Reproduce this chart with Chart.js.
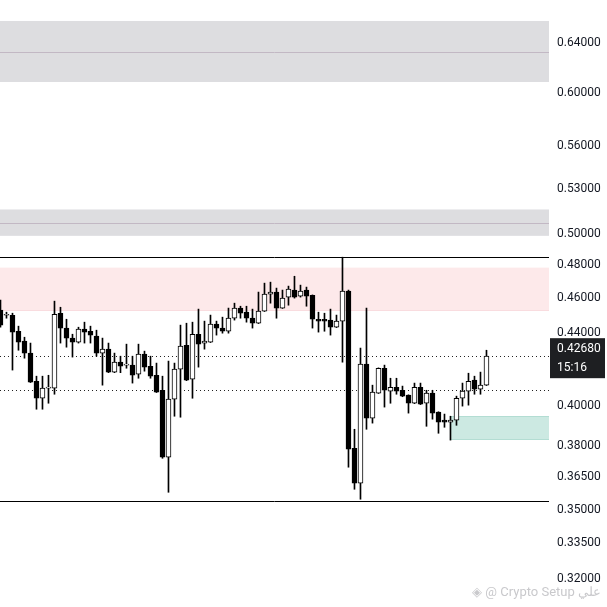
<!DOCTYPE html>
<html>
<head>
<meta charset="utf-8">
<script src="https://cdn.jsdelivr.net/npm/chart.js@4"></script>
<style>
  html, body { margin: 0; padding: 0; background: #ffffff; }
  #wrap { position: relative; width: 607px; height: 607px; }
</style>
</head>
<body>
<div id="wrap"><canvas id="myChart" width="607" height="607"></canvas></div>
<script>
// свечи (open / high / low / close)
const opens = [.4530,.4500,.4500,.4408,.4352,.4285,.4132,.4042,.4095,.4095,
  .4512,.4426,.4369,.4346,.4420,.4408,.4380,.4285,.4307,.4181,
  .4235,.4219,.4219,.4170,.4279,.4213,.4164,.4084,.3745,.4037,
  .4197,.4329,.4143,.4391,.4341,.4346,.4449,.4426,.4408,.4483,
  .4542,.4518,.4483,.4454,.4524,.4625,.4637,.4542,.4607,.4649,
  .4613,.4649,.4618,.4477,.4477,.4472,.4431,.4466,.4643,.3789,
  .3621,.4224,.3939,.4069,.4202,.4079,.4100,.4084,.4058,.4016,
  .4100,.4016,.4069,.3970,.3929,.3919,.3929,.4042,.4079,.4138,
  .4090,.4111];
const highs = [.4589,.4518,.4512,.4437,.4374,.4341,.4159,.4159,.4164,.4583,
  .4547,.4477,.4391,.4431,.4460,.4437,.4414,.4369,.4341,.4285,
  .4268,.4335,.4268,.4335,.4296,.4268,.4230,.4159,.4241,.4230,
  .4443,.4454,.4460,.4536,.4466,.4501,.4466,.4489,.4542,.4571,
  .4553,.4553,.4536,.4637,.4691,.4697,.4661,.4649,.4673,.4733,
  .4679,.4667,.4620,.4518,.4512,.4536,.4501,.4851,.4649,.3883,
  .4313,.4542,.4111,.4204,.4219,.4148,.4148,.4106,.4060,.4122,
  .4122,.4084,.4084,.3972,.3960,.3949,.4053,.4122,.4175,.4159,
  .4181,.4301];
const lows = [.4431,.4483,.4192,.4301,.4257,.4125,.3985,.3985,.4016,.4063,
  .4341,.4318,.4263,.4341,.4341,.4341,.4268,.4111,.4178,.4178,
  .4178,.4202,.4122,.4148,.4186,.4148,.4072,.3740,.3579,.3949,
  .3944,.4135,.4042,.4208,.4307,.4344,.4386,.4397,.4397,.4472,
  .4483,.4460,.4426,.4452,.4522,.4571,.4483,.4540,.4559,.4601,
  .4607,.4553,.4426,.4403,.4408,.4386,.4429,.4235,.3697,.3593,
  .3547,.3883,.3914,.4067,.3996,.4016,.4063,.4050,.3965,.4014,
  .4009,.3898,.3934,.3863,.3893,.3829,.3903,.4001,.4006,.4063,
  .4063,.4109];
const closes = [.4443,.4501,.4403,.4346,.4285,.4127,.4042,.4095,.4095,.4506,
  .4426,.4369,.4346,.4420,.4403,.4386,.4285,.4307,.4181,.4235,
  .4213,.4219,.4164,.4279,.4208,.4159,.4074,.3745,.4037,.4197,
  .4324,.4138,.4391,.4335,.4352,.4449,.4426,.4408,.4483,.4542,
  .4512,.4483,.4454,.4524,.4625,.4637,.4542,.4601,.4655,.4607,
  .4643,.4613,.4477,.4466,.4466,.4431,.4466,.4643,.3784,.3621,
  .4224,.3939,.4074,.4202,.4084,.4100,.4079,.4053,.4016,.4100,
  .4011,.4069,.3965,.3919,.3919,.3929,.4042,.4079,.4132,.4090,
  .4111,.4268];

// подписи шкалы цены
const yTicks = [0.64, 0.60, 0.56, 0.53, 0.50, 0.48, 0.46, 0.44, 0.40, 0.38, 0.365, 0.35, 0.335, 0.32];

// зоны и уровни на графике
const greyZones = [[0.6585, 0.6085], [0.5160, 0.4987]];
const greyMids = [0.6326, 0.5071];
const pinkZone = [0.4786, 0.4525];
const greenZone = [0.3950, 0.3830];
const greenFrom = 75;          // индекс свечи, с которой начинается зелёная зона
const rangeLines = [0.4851, 0.3540];
const dottedLevels = [0.4268, 0.4085];
const lastPrice = 0.4268;
const timeLeft = '15:16';

document.addEventListener('DOMContentLoaded', function() {
    const idx = opens.map((_, i) => i);
    const isUp = idx.map(i => closes[i] >= opens[i]);

    // плагин для зон, линий и ценника
    const overlay = {
        id: 'overlay',
        beforeDatasetsDraw(chart) {
            const { ctx, chartArea: a, scales: { x, y } } = chart;
            const w = a.right - a.left;
            ctx.save();
            greyZones.forEach((z, k) => {
                const t = y.getPixelForValue(z[0]), b = y.getPixelForValue(z[1]);
                ctx.fillStyle = '#dddde0';
                ctx.fillRect(a.left, t, w, b - t);
                const m = Math.round(y.getPixelForValue(greyMids[k])) + 0.5;
                ctx.strokeStyle = '#c2b8c4';
                ctx.lineWidth = 1;
                ctx.beginPath(); ctx.moveTo(a.left, m); ctx.lineTo(a.right, m); ctx.stroke();
            });
            // розовая зона
            let t = y.getPixelForValue(pinkZone[0]), b = y.getPixelForValue(pinkZone[1]);
            ctx.fillStyle = '#fde9ea';
            ctx.fillRect(a.left, t, w, b - t);
            ctx.strokeStyle = '#f9dcdf';
            ctx.beginPath(); ctx.moveTo(a.left, Math.round(b) - 0.5); ctx.lineTo(a.right, Math.round(b) - 0.5); ctx.stroke();
            // зелёная зона
            t = y.getPixelForValue(greenZone[0]); b = y.getPixelForValue(greenZone[1]);
            const gx = x.getPixelForValue(greenFrom) - 0.5;
            ctx.fillStyle = '#cce9e2';
            ctx.fillRect(gx, t, a.right - gx, b - t);
            ctx.strokeStyle = '#b3ddd3';
            ctx.beginPath();
            ctx.moveTo(gx, Math.round(t) + 0.5); ctx.lineTo(a.right, Math.round(t) + 0.5);
            ctx.moveTo(gx, Math.round(b) - 0.5); ctx.lineTo(a.right, Math.round(b) - 0.5);
            ctx.stroke();
            // максимум / минимум
            ctx.strokeStyle = '#000000';
            rangeLines.forEach(v => {
                const p = Math.round(y.getPixelForValue(v)) + 0.5;
                ctx.beginPath(); ctx.moveTo(a.left, p); ctx.lineTo(a.right, p); ctx.stroke();
            });
            // пунктир
            ctx.setLineDash([1, 3]);
            ctx.strokeStyle = '#222222';
            dottedLevels.forEach(v => {
                const p = Math.round(y.getPixelForValue(v)) + 0.5;
                ctx.beginPath(); ctx.moveTo(a.left, p); ctx.lineTo(a.right, p); ctx.stroke();
            });
            ctx.restore();
        },
        afterDraw(chart) {
            const { ctx, chartArea: a, scales: { y } } = chart;
            const p = y.getPixelForValue(lastPrice);
            ctx.save();
            ctx.fillStyle = '#1e1f22';
            ctx.fillRect(a.right + 1, p - 18, 55, 40);
            ctx.fillStyle = '#ffffff';
            ctx.font = '12px Roboto';
            ctx.textBaseline = 'middle';
            ctx.textAlign = 'left';
            ctx.fillText(lastPrice.toFixed(5), a.right + 8, p - 7);
            ctx.fillText(timeLeft, a.right + 8, p + 12);
            // водяной знак
            ctx.fillStyle = '#c9c9cc';
            ctx.font = '13px Roboto';
            ctx.textAlign = 'right';
            ctx.textBaseline = 'alphabetic';
            ctx.fillText('\u25C8 @ Crypto Setup علي', 601, 596);
            ctx.restore();
        }
    };

    const ctx = document.getElementById('myChart').getContext('2d');
    new Chart(ctx, {
        type: 'bar',
        data: {
            datasets: [{
                label: 'wicks',
                data: idx.map(i => ({ x: i, y: [lows[i], highs[i]] })),
                backgroundColor: '#000000',
                barThickness: 1,
                grouped: false,
                order: 2
            }, {
                label: 'bodies',
                data: idx.map(i => ({ x: i, y: [opens[i], closes[i]] })),
                backgroundColor: isUp.map(u => u ? '#ffffff' : '#000000'),
                borderColor: '#000000',
                borderWidth: 1,
                borderSkipped: false,
                barThickness: 5,
                minBarLength: 1,
                grouped: false,
                order: 1
            }]
        },
        options: {
            responsive: false,
            animation: false,
            devicePixelRatio: 1,
            layout: { padding: 0 },
            plugins: { legend: { display: false }, tooltip: { enabled: false } },
            scales: {
                x: {
                    type: 'linear',
                    display: false,
                    offset: false,
                    min: -0.08,
                    max: 91.42,
                    grid: { display: false }
                },
                y: {
                    type: 'logarithmic',
                    position: 'right',
                    min: 0.30854,
                    max: 0.67661,
                    border: { display: false },
                    grid: { display: false, drawTicks: true, tickLength: 8 },
                    afterFit: scale => {
                        scale.width = 58;
                        // без вертикальных отступов, чтобы шкала шла на всю высоту
                        scale.paddingTop = 0;
                        scale.paddingBottom = 0;
                    },
                    afterBuildTicks: scale => { scale.ticks = yTicks.map(v => ({ value: v })); },
                    ticks: {
                        autoSkip: false,
                        padding: 0,
                        color: '#131722',
                        font: { family: 'Roboto', size: 12 },
                        callback: v => Number(v).toFixed(5)
                    }
                }
            }
        },
        plugins: [overlay]
    });
});
</script>
</body>
</html>
